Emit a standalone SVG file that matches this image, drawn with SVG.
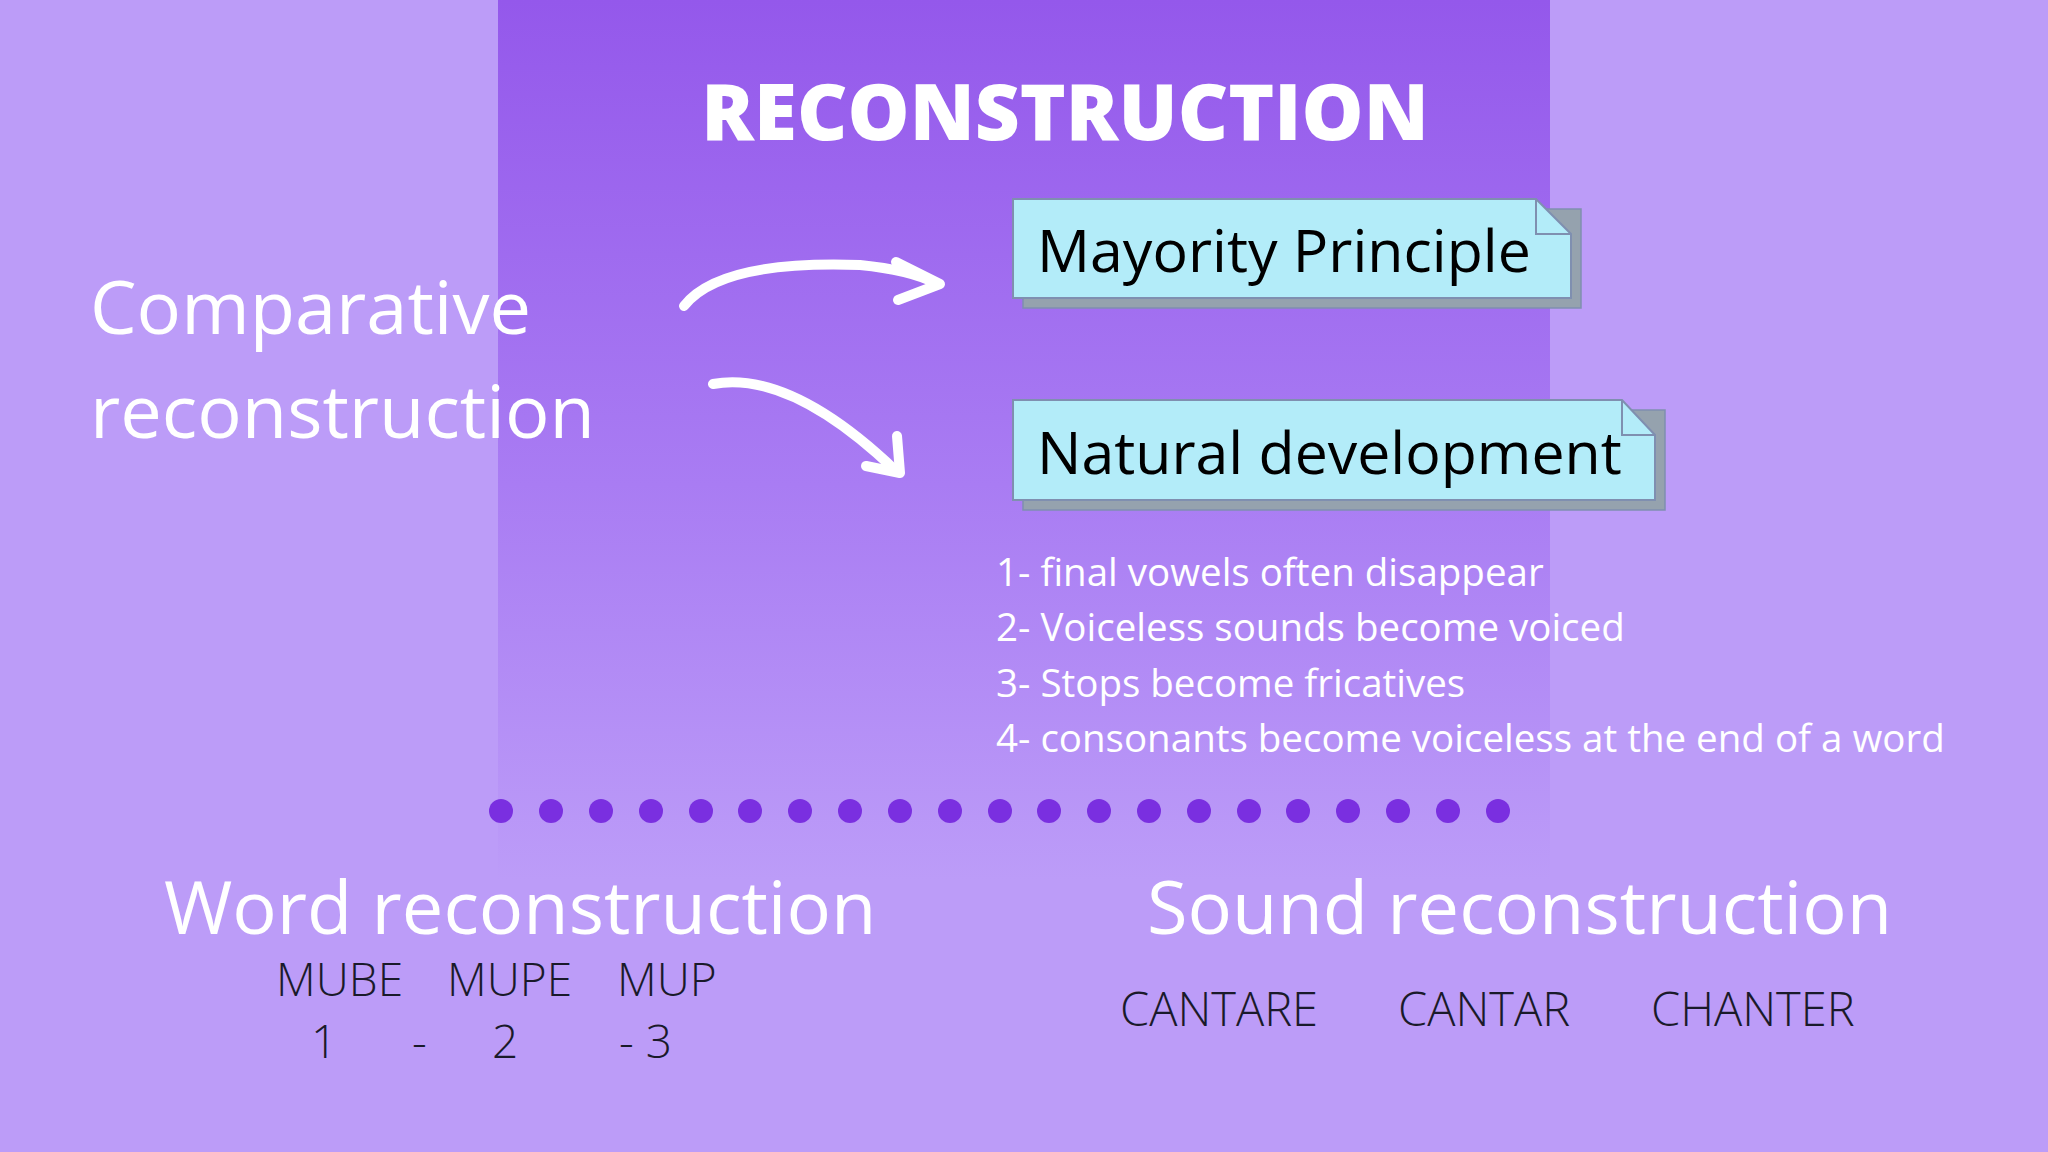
<svg xmlns="http://www.w3.org/2000/svg" width="2048" height="1152" viewBox="0 0 2048 1152">
<defs>
<linearGradient id="band" x1="0" y1="0" x2="0" y2="1">
<stop offset="0" stop-color="#9458EB"/>
<stop offset="0.55" stop-color="#A97CF3"/>
<stop offset="1" stop-color="#BC9CF8"/>
</linearGradient>
<style>
.w{fill:#fff;font-family:"Open Sans","Liberation Sans",sans-serif}
.k{fill:#1a1a2a;font-family:"Open Sans","Liberation Sans",sans-serif;font-weight:300}
.note{fill:#B3ECF9;stroke:#7F8FB0;stroke-width:2}
.sh{fill:#95A2AE;stroke:#7F8FB0;stroke-width:1.5}
.arr{fill:none;stroke:#fff;stroke-width:10;stroke-linecap:round;stroke-linejoin:round}
.dot{fill:#7A2FE0}
</style>
</defs>
<rect width="2048" height="1152" fill="#BC9CF8"/>
<rect x="498" y="0" width="1052" height="880" fill="url(#band)"/>
<text class="w" x="1065" y="140" text-anchor="middle" font-size="78" font-weight="800">RECONSTRUCTION</text>
<g id="comparative"><text class="w" font-size="74"><tspan x="90" y="334">Comparative</tspan><tspan x="90" y="438">reconstruction</tspan></text></g>
<g id="connectors">
<path class="arr" d="M684 306 Q720 260 860 265 Q910 270 935 283"/>
<path class="arr" d="M896 262 L940 284 L898 300"/>
<path class="arr" d="M713 384 Q790 370 895 470"/>
<path class="arr" d="M866 466 L900 473 L897 436"/>
</g>
<g id="majority">
<polygon class="sh" points="1023,209 1581,209 1581,308 1023,308"/>
<polygon class="note" points="1013,199 1536,199 1571,234 1571,298 1013,298"/>
<polyline points="1536,199 1536,234 1571,234" fill="none" stroke="#7F8FB0" stroke-width="2"/>
<text x="1037" y="272" font-size="59" fill="#000" font-family="Open Sans,Liberation Sans,sans-serif">Mayority Principle</text>
</g>
<g id="natural">
<polygon class="sh" points="1023,410 1665,410 1665,510 1023,510"/>
<polygon class="note" points="1013,400 1622,400 1655,435 1655,500 1013,500"/>
<polyline points="1622,400 1622,435 1655,435" fill="none" stroke="#7F8FB0" stroke-width="2"/>
<text x="1037" y="474" font-size="59" fill="#000" font-family="Open Sans,Liberation Sans,sans-serif">Natural development</text>
</g>
<g id="list">
<text class="w" x="996" y="586" font-size="38.5">1- final vowels often disappear</text>
<text class="w" x="996" y="641" font-size="38.5">2- Voiceless sounds become voiced</text>
<text class="w" x="996" y="697" font-size="38.5">3- Stops become fricatives</text>
<text class="w" x="996" y="752" font-size="38.5">4- consonants become voiceless at the end of a word</text>
</g>
<g id="dots">
<circle class="dot" cx="501" cy="811" r="12"/><circle class="dot" cx="551" cy="811" r="12"/><circle class="dot" cx="601" cy="811" r="12"/><circle class="dot" cx="651" cy="811" r="12"/><circle class="dot" cx="701" cy="811" r="12"/><circle class="dot" cx="750" cy="811" r="12"/><circle class="dot" cx="800" cy="811" r="12"/><circle class="dot" cx="850" cy="811" r="12"/><circle class="dot" cx="900" cy="811" r="12"/><circle class="dot" cx="950" cy="811" r="12"/><circle class="dot" cx="1000" cy="811" r="12"/><circle class="dot" cx="1049" cy="811" r="12"/><circle class="dot" cx="1099" cy="811" r="12"/><circle class="dot" cx="1149" cy="811" r="12"/><circle class="dot" cx="1199" cy="811" r="12"/><circle class="dot" cx="1249" cy="811" r="12"/><circle class="dot" cx="1298" cy="811" r="12"/><circle class="dot" cx="1348" cy="811" r="12"/><circle class="dot" cx="1398" cy="811" r="12"/><circle class="dot" cx="1448" cy="811" r="12"/><circle class="dot" cx="1498" cy="811" r="12"/>
</g>
<g id="word">
<text class="w" x="164" y="934" font-size="74">Word reconstruction</text>
<text class="k" y="996" font-size="46"><tspan x="276">MUBE</tspan><tspan x="447">MUPE</tspan><tspan x="617">MUP</tspan></text>
<text class="k" y="1058" font-size="46"><tspan x="311">1</tspan><tspan x="412">-</tspan><tspan x="492">2</tspan><tspan x="619">- 3</tspan></text>
</g>
<g id="sound">
<text class="w" x="1147" y="934" font-size="74">Sound reconstruction</text>
<text class="k" y="1026" font-size="47"><tspan x="1120">CANTARE</tspan><tspan x="1398">CANTAR</tspan><tspan x="1651">CHANTER</tspan></text>
</g>
</svg>
